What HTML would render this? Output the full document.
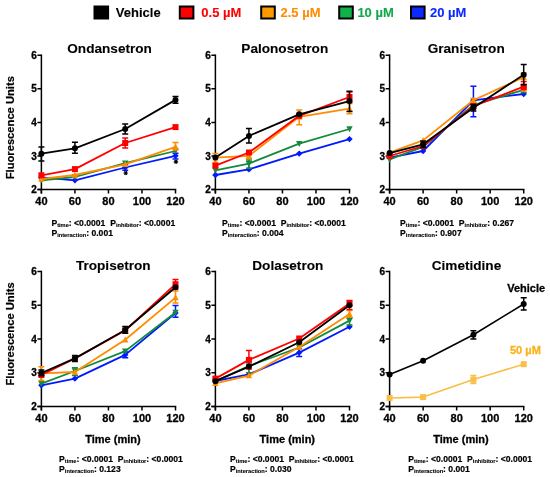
<!DOCTYPE html><html><head><meta charset="utf-8"><style>html,body{margin:0;padding:0;background:#fff;width:550px;height:477px;overflow:hidden}svg{display:block;will-change:transform}text{font-family:"Liberation Sans",sans-serif;font-weight:bold;white-space:pre;stroke:#000;stroke-width:0.3px}</style></head><body>
<svg width="550" height="477" viewBox="0 0 550 477">
<rect x="94.50" y="6.5" width="13.6" height="12" fill="#000" stroke="#000" stroke-width="2"/>
<text x="115.80" y="17.3" font-size="13" fill="#000" style="stroke:#000;stroke-width:0.1px">Vehicle</text>
<rect x="179.80" y="6.5" width="13.6" height="12" fill="#FF0000" stroke="#000" stroke-width="2"/>
<text x="201.30" y="17.3" font-size="13" fill="#FF0000" style="stroke:#FF0000;stroke-width:0.1px">0.5 µM</text>
<rect x="261.20" y="6.5" width="13.6" height="12" fill="#FF9900" stroke="#000" stroke-width="2"/>
<text x="280.50" y="17.3" font-size="13" fill="#FF8C00" style="stroke:#FF8C00;stroke-width:0.1px">2.5 µM</text>
<rect x="339.20" y="6.5" width="13.6" height="12" fill="#10B04A" stroke="#000" stroke-width="2"/>
<text x="357.40" y="17.3" font-size="13" fill="#10A84A" style="stroke:#10A84A;stroke-width:0.1px">10 µM</text>
<rect x="411.00" y="6.5" width="13.6" height="12" fill="#0A2AFF" stroke="#000" stroke-width="2"/>
<text x="430.00" y="17.3" font-size="13" fill="#0A28FF" style="stroke:#0A28FF;stroke-width:0.1px">20 µM</text>
<text x="109.60" y="53.00" font-size="13.6" text-anchor="middle" style="stroke-width:0.12px">Ondansetron</text>
<text x="284.80" y="53.00" font-size="13.6" text-anchor="middle" style="stroke-width:0.12px">Palonosetron</text>
<text x="466.20" y="53.00" font-size="13.6" text-anchor="middle" style="stroke-width:0.12px">Granisetron</text>
<text x="113.30" y="269.70" font-size="13.6" text-anchor="middle" style="stroke-width:0.12px">Tropisetron</text>
<text x="287.80" y="269.70" font-size="13.6" text-anchor="middle" style="stroke-width:0.12px">Dolasetron</text>
<text x="466.50" y="269.70" font-size="13.6" text-anchor="middle" style="stroke-width:0.12px">Cimetidine</text>
<text transform="translate(14.3 127.70) rotate(-90)" x="0" y="0" font-size="11.2" text-anchor="middle" style="stroke-width:0.2px">Fluorescence Units</text>
<text transform="translate(14.3 333.90) rotate(-90)" x="0" y="0" font-size="11.2" text-anchor="middle" style="stroke-width:0.2px">Fluorescence Units</text>
<path d="M41.40 54.45V193.60M37.40 189.60H176.25" stroke="#000" stroke-width="1.5" fill="none"/>
<text x="36.80" y="193.20" font-size="10" text-anchor="end">2</text>
<text x="36.80" y="159.60" font-size="10" text-anchor="end">3</text>
<text x="36.80" y="126.00" font-size="10" text-anchor="end">4</text>
<text x="36.80" y="92.40" font-size="10" text-anchor="end">5</text>
<text x="36.80" y="58.80" font-size="10" text-anchor="end">6</text>
<text x="41.40" y="204.60" font-size="11" text-anchor="middle">40</text>
<text x="74.92" y="204.60" font-size="11" text-anchor="middle">60</text>
<text x="108.45" y="204.60" font-size="11" text-anchor="middle">80</text>
<text x="141.97" y="204.60" font-size="11" text-anchor="middle">100</text>
<text x="175.50" y="204.60" font-size="11" text-anchor="middle">120</text>
<path d="M37.40 189.60H41.40M37.40 156.00H41.40M37.40 122.40H41.40M37.40 88.80H41.40M37.40 55.20H41.40M41.40 189.60V193.60M74.92 189.60V193.60M108.45 189.60V193.60M141.97 189.60V193.60M175.50 189.60V193.60" stroke="#000" stroke-width="1.5" fill="none"/>
<path d="M41.40 270.87V410.50M37.40 406.50H176.25" stroke="#000" stroke-width="1.5" fill="none"/>
<text x="36.80" y="410.10" font-size="10" text-anchor="end">2</text>
<text x="36.80" y="376.38" font-size="10" text-anchor="end">3</text>
<text x="36.80" y="342.66" font-size="10" text-anchor="end">4</text>
<text x="36.80" y="308.94" font-size="10" text-anchor="end">5</text>
<text x="36.80" y="275.22" font-size="10" text-anchor="end">6</text>
<text x="41.40" y="421.50" font-size="11" text-anchor="middle">40</text>
<text x="74.92" y="421.50" font-size="11" text-anchor="middle">60</text>
<text x="108.45" y="421.50" font-size="11" text-anchor="middle">80</text>
<text x="141.97" y="421.50" font-size="11" text-anchor="middle">100</text>
<text x="175.50" y="421.50" font-size="11" text-anchor="middle">120</text>
<path d="M37.40 406.50H41.40M37.40 372.78H41.40M37.40 339.06H41.40M37.40 305.34H41.40M37.40 271.62H41.40M41.40 406.50V410.50M74.92 406.50V410.50M108.45 406.50V410.50M141.97 406.50V410.50M175.50 406.50V410.50" stroke="#000" stroke-width="1.5" fill="none"/>
<path d="M215.40 54.45V193.60M211.40 189.60H350.25" stroke="#000" stroke-width="1.5" fill="none"/>
<text x="210.80" y="193.20" font-size="10" text-anchor="end">2</text>
<text x="210.80" y="159.60" font-size="10" text-anchor="end">3</text>
<text x="210.80" y="126.00" font-size="10" text-anchor="end">4</text>
<text x="210.80" y="92.40" font-size="10" text-anchor="end">5</text>
<text x="210.80" y="58.80" font-size="10" text-anchor="end">6</text>
<text x="215.40" y="204.60" font-size="11" text-anchor="middle">40</text>
<text x="248.93" y="204.60" font-size="11" text-anchor="middle">60</text>
<text x="282.45" y="204.60" font-size="11" text-anchor="middle">80</text>
<text x="315.98" y="204.60" font-size="11" text-anchor="middle">100</text>
<text x="349.50" y="204.60" font-size="11" text-anchor="middle">120</text>
<path d="M211.40 189.60H215.40M211.40 156.00H215.40M211.40 122.40H215.40M211.40 88.80H215.40M211.40 55.20H215.40M215.40 189.60V193.60M248.93 189.60V193.60M282.45 189.60V193.60M315.98 189.60V193.60M349.50 189.60V193.60" stroke="#000" stroke-width="1.5" fill="none"/>
<path d="M215.40 270.87V410.50M211.40 406.50H350.25" stroke="#000" stroke-width="1.5" fill="none"/>
<text x="210.80" y="410.10" font-size="10" text-anchor="end">2</text>
<text x="210.80" y="376.38" font-size="10" text-anchor="end">3</text>
<text x="210.80" y="342.66" font-size="10" text-anchor="end">4</text>
<text x="210.80" y="308.94" font-size="10" text-anchor="end">5</text>
<text x="210.80" y="275.22" font-size="10" text-anchor="end">6</text>
<text x="215.40" y="421.50" font-size="11" text-anchor="middle">40</text>
<text x="248.93" y="421.50" font-size="11" text-anchor="middle">60</text>
<text x="282.45" y="421.50" font-size="11" text-anchor="middle">80</text>
<text x="315.98" y="421.50" font-size="11" text-anchor="middle">100</text>
<text x="349.50" y="421.50" font-size="11" text-anchor="middle">120</text>
<path d="M211.40 406.50H215.40M211.40 372.78H215.40M211.40 339.06H215.40M211.40 305.34H215.40M211.40 271.62H215.40M215.40 406.50V410.50M248.93 406.50V410.50M282.45 406.50V410.50M315.98 406.50V410.50M349.50 406.50V410.50" stroke="#000" stroke-width="1.5" fill="none"/>
<path d="M389.60 54.45V193.60M385.60 189.60H524.45" stroke="#000" stroke-width="1.5" fill="none"/>
<text x="385.00" y="193.20" font-size="10" text-anchor="end">2</text>
<text x="385.00" y="159.60" font-size="10" text-anchor="end">3</text>
<text x="385.00" y="126.00" font-size="10" text-anchor="end">4</text>
<text x="385.00" y="92.40" font-size="10" text-anchor="end">5</text>
<text x="385.00" y="58.80" font-size="10" text-anchor="end">6</text>
<text x="389.60" y="204.60" font-size="11" text-anchor="middle">40</text>
<text x="423.12" y="204.60" font-size="11" text-anchor="middle">60</text>
<text x="456.65" y="204.60" font-size="11" text-anchor="middle">80</text>
<text x="490.18" y="204.60" font-size="11" text-anchor="middle">100</text>
<text x="523.70" y="204.60" font-size="11" text-anchor="middle">120</text>
<path d="M385.60 189.60H389.60M385.60 156.00H389.60M385.60 122.40H389.60M385.60 88.80H389.60M385.60 55.20H389.60M389.60 189.60V193.60M423.12 189.60V193.60M456.65 189.60V193.60M490.18 189.60V193.60M523.70 189.60V193.60" stroke="#000" stroke-width="1.5" fill="none"/>
<path d="M389.60 270.87V410.50M385.60 406.50H524.45" stroke="#000" stroke-width="1.5" fill="none"/>
<text x="385.00" y="410.10" font-size="10" text-anchor="end">2</text>
<text x="385.00" y="376.38" font-size="10" text-anchor="end">3</text>
<text x="385.00" y="342.66" font-size="10" text-anchor="end">4</text>
<text x="385.00" y="308.94" font-size="10" text-anchor="end">5</text>
<text x="385.00" y="275.22" font-size="10" text-anchor="end">6</text>
<text x="389.60" y="421.50" font-size="11" text-anchor="middle">40</text>
<text x="423.12" y="421.50" font-size="11" text-anchor="middle">60</text>
<text x="456.65" y="421.50" font-size="11" text-anchor="middle">80</text>
<text x="490.18" y="421.50" font-size="11" text-anchor="middle">100</text>
<text x="523.70" y="421.50" font-size="11" text-anchor="middle">120</text>
<path d="M385.60 406.50H389.60M385.60 372.78H389.60M385.60 339.06H389.60M385.60 305.34H389.60M385.60 271.62H389.60M389.60 406.50V410.50M423.12 406.50V410.50M456.65 406.50V410.50M490.18 406.50V410.50M523.70 406.50V410.50" stroke="#000" stroke-width="1.5" fill="none"/>
<text x="85.20" y="442.6" font-size="11">Time (min)</text>
<text x="259.60" y="442.6" font-size="11">Time (min)</text>
<text x="433.20" y="442.6" font-size="11">Time (min)</text>
<text x="51.40" y="226.00" font-size="8.6" style="stroke-width:0.2px">P<tspan font-size="5.7" style="stroke-width:0.12px" dy="1">time</tspan><tspan dy="-1">: &lt;0.0001  P</tspan><tspan font-size="5.7" style="stroke-width:0.12px" dy="1">inhibitor</tspan><tspan dy="-1">: &lt;0.0001</tspan></text>
<text x="51.40" y="236.20" font-size="8.6" style="stroke-width:0.2px">P<tspan font-size="5.7" style="stroke-width:0.12px" dy="1">interaction</tspan><tspan dy="-1">: 0.001</tspan></text>
<text x="222.00" y="226.00" font-size="8.6" style="stroke-width:0.2px">P<tspan font-size="5.7" style="stroke-width:0.12px" dy="1">time</tspan><tspan dy="-1">: &lt;0.0001  P</tspan><tspan font-size="5.7" style="stroke-width:0.12px" dy="1">inhibitor</tspan><tspan dy="-1">: &lt;0.0001</tspan></text>
<text x="222.00" y="236.20" font-size="8.6" style="stroke-width:0.2px">P<tspan font-size="5.7" style="stroke-width:0.12px" dy="1">interaction</tspan><tspan dy="-1">: 0.004</tspan></text>
<text x="400.10" y="226.00" font-size="8.6" style="stroke-width:0.2px">P<tspan font-size="5.7" style="stroke-width:0.12px" dy="1">time</tspan><tspan dy="-1">: &lt;0.0001  P</tspan><tspan font-size="5.7" style="stroke-width:0.12px" dy="1">inhibitor</tspan><tspan dy="-1">: 0.267</tspan></text>
<text x="400.10" y="236.20" font-size="8.6" style="stroke-width:0.2px">P<tspan font-size="5.7" style="stroke-width:0.12px" dy="1">interaction</tspan><tspan dy="-1">: 0.907</tspan></text>
<text x="59.10" y="461.70" font-size="8.6" style="stroke-width:0.2px">P<tspan font-size="5.7" style="stroke-width:0.12px" dy="1">time</tspan><tspan dy="-1">: &lt;0.0001  P</tspan><tspan font-size="5.7" style="stroke-width:0.12px" dy="1">inhibitor</tspan><tspan dy="-1">: &lt;0.0001</tspan></text>
<text x="59.10" y="471.90" font-size="8.6" style="stroke-width:0.2px">P<tspan font-size="5.7" style="stroke-width:0.12px" dy="1">interaction</tspan><tspan dy="-1">: 0.123</tspan></text>
<text x="230.00" y="461.70" font-size="8.6" style="stroke-width:0.2px">P<tspan font-size="5.7" style="stroke-width:0.12px" dy="1">time</tspan><tspan dy="-1">: &lt;0.0001  P</tspan><tspan font-size="5.7" style="stroke-width:0.12px" dy="1">inhibitor</tspan><tspan dy="-1">: &lt;0.0001</tspan></text>
<text x="230.00" y="471.90" font-size="8.6" style="stroke-width:0.2px">P<tspan font-size="5.7" style="stroke-width:0.12px" dy="1">interaction</tspan><tspan dy="-1">: 0.030</tspan></text>
<text x="408.30" y="461.70" font-size="8.6" style="stroke-width:0.2px">P<tspan font-size="5.7" style="stroke-width:0.12px" dy="1">time</tspan><tspan dy="-1">: &lt;0.0001  P</tspan><tspan font-size="5.7" style="stroke-width:0.12px" dy="1">inhibitor</tspan><tspan dy="-1">: &lt;0.0001</tspan></text>
<text x="408.30" y="471.90" font-size="8.6" style="stroke-width:0.2px">P<tspan font-size="5.7" style="stroke-width:0.12px" dy="1">interaction</tspan><tspan dy="-1">: 0.001</tspan></text>
<path d="M41.40 177.30 L74.92 180.30 L125.21 167.50 L175.50 155.80" stroke="#0019FF" stroke-width="1.8" fill="none" stroke-linejoin="round"/>
<path d="M125.21 164.80V170.20M122.21 164.80H128.21M122.21 170.20H128.21" stroke="#0019FF" stroke-width="1.5" fill="none"/>
<path d="M175.50 153.20V158.90M172.50 153.20H178.50M172.50 158.90H178.50" stroke="#0019FF" stroke-width="1.5" fill="none"/>
<path d="M41.40 174.10L44.60 177.30L41.40 180.50L38.20 177.30Z" fill="#0019FF"/>
<path d="M74.92 177.10L78.12 180.30L74.92 183.50L71.72 180.30Z" fill="#0019FF"/>
<path d="M125.21 164.30L128.41 167.50L125.21 170.70L122.01 167.50Z" fill="#0019FF"/>
<path d="M175.50 152.60L178.70 155.80L175.50 159.00L172.30 155.80Z" fill="#0019FF"/>
<path d="M41.40 180.30 L74.92 177.00 L125.21 163.20 L175.50 151.00" stroke="#138A3C" stroke-width="1.8" fill="none" stroke-linejoin="round"/>
<path d="M38.20 177.60L44.60 177.60L41.40 183.60Z" fill="#138A3C"/>
<path d="M71.72 174.30L78.12 174.30L74.92 180.30Z" fill="#138A3C"/>
<path d="M122.01 160.50L128.41 160.50L125.21 166.50Z" fill="#138A3C"/>
<path d="M172.30 148.30L178.70 148.30L175.50 154.30Z" fill="#138A3C"/>
<path d="M41.40 179.00 L74.92 175.00 L125.21 164.40 L175.50 146.80" stroke="#FF8C00" stroke-width="1.8" fill="none" stroke-linejoin="round"/>
<path d="M175.50 142.60V150.00M172.50 142.60H178.50M172.50 150.00H178.50" stroke="#FF8C00" stroke-width="1.5" fill="none"/>
<path d="M38.20 181.70L44.60 181.70L41.40 175.70Z" fill="#FF8C00"/>
<path d="M71.72 177.70L78.12 177.70L74.92 171.70Z" fill="#FF8C00"/>
<path d="M122.01 167.10L128.41 167.10L125.21 161.10Z" fill="#FF8C00"/>
<path d="M172.30 149.50L178.70 149.50L175.50 143.50Z" fill="#FF8C00"/>
<path d="M41.40 175.30 L74.92 169.10 L125.21 143.00 L175.50 127.10" stroke="#FF0000" stroke-width="1.8" fill="none" stroke-linejoin="round"/>
<path d="M125.21 138.00V148.00M122.21 138.00H128.21M122.21 148.00H128.21" stroke="#FF0000" stroke-width="1.5" fill="none"/>
<rect x="38.40" y="172.30" width="6.00" height="6.00" fill="#FF0000"/>
<rect x="71.92" y="166.10" width="6.00" height="6.00" fill="#FF0000"/>
<rect x="122.21" y="140.00" width="6.00" height="6.00" fill="#FF0000"/>
<rect x="172.50" y="124.10" width="6.00" height="6.00" fill="#FF0000"/>
<path d="M41.40 153.70 L74.92 148.30 L125.21 129.00 L175.50 99.90" stroke="#000000" stroke-width="1.8" fill="none" stroke-linejoin="round"/>
<path d="M41.40 147.00V161.00M38.40 147.00H44.40M38.40 161.00H44.40" stroke="#000000" stroke-width="1.5" fill="none"/>
<path d="M74.92 142.30V153.20M71.92 142.30H77.92M71.92 153.20H77.92" stroke="#000000" stroke-width="1.5" fill="none"/>
<path d="M125.21 124.00V134.00M122.21 124.00H128.21M122.21 134.00H128.21" stroke="#000000" stroke-width="1.5" fill="none"/>
<path d="M175.50 96.60V103.20M172.50 96.60H178.50M172.50 103.20H178.50" stroke="#000000" stroke-width="1.5" fill="none"/>
<circle cx="41.40" cy="153.70" r="3.00" fill="#000000"/>
<circle cx="74.92" cy="148.30" r="3.00" fill="#000000"/>
<circle cx="125.21" cy="129.00" r="3.00" fill="#000000"/>
<circle cx="175.50" cy="99.90" r="3.00" fill="#000000"/>
<path d="M123.51 173.00L127.91 173.00M124.55 171.13L126.88 174.87M126.88 171.13L124.55 174.87" stroke="#000" stroke-width="1.2" fill="none"/>
<path d="M173.70 161.80L178.10 161.80M174.73 159.93L177.07 163.67M177.07 159.93L174.73 163.67" stroke="#000" stroke-width="1.2" fill="none"/>
<path d="M215.40 175.00 L248.93 169.40 L299.21 153.60 L349.50 139.10" stroke="#0019FF" stroke-width="1.8" fill="none" stroke-linejoin="round"/>
<path d="M215.40 171.80L218.60 175.00L215.40 178.20L212.20 175.00Z" fill="#0019FF"/>
<path d="M248.93 166.20L252.12 169.40L248.93 172.60L245.73 169.40Z" fill="#0019FF"/>
<path d="M299.21 150.40L302.41 153.60L299.21 156.80L296.01 153.60Z" fill="#0019FF"/>
<path d="M349.50 135.90L352.70 139.10L349.50 142.30L346.30 139.10Z" fill="#0019FF"/>
<path d="M215.40 170.30 L248.93 163.60 L299.21 143.60 L349.50 129.00" stroke="#138A3C" stroke-width="1.8" fill="none" stroke-linejoin="round"/>
<path d="M248.93 160.00V168.20M245.93 160.00H251.93M245.93 168.20H251.93" stroke="#138A3C" stroke-width="1.5" fill="none"/>
<path d="M212.20 167.60L218.60 167.60L215.40 173.60Z" fill="#138A3C"/>
<path d="M245.73 160.90L252.12 160.90L248.93 166.90Z" fill="#138A3C"/>
<path d="M296.01 140.90L302.41 140.90L299.21 146.90Z" fill="#138A3C"/>
<path d="M346.30 126.30L352.70 126.30L349.50 132.30Z" fill="#138A3C"/>
<path d="M215.40 157.70 L248.93 155.80 L299.21 116.80 L349.50 108.70" stroke="#FF8C00" stroke-width="1.8" fill="none" stroke-linejoin="round"/>
<path d="M215.40 153.60V162.40M212.40 153.60H218.40M212.40 162.40H218.40" stroke="#FF8C00" stroke-width="1.5" fill="none"/>
<path d="M248.93 153.00V158.40M245.93 153.00H251.93M245.93 158.40H251.93" stroke="#FF8C00" stroke-width="1.5" fill="none"/>
<path d="M299.21 110.00V124.70M296.21 110.00H302.21M296.21 124.70H302.21" stroke="#FF8C00" stroke-width="1.5" fill="none"/>
<path d="M349.50 103.60V113.80M346.50 103.60H352.50M346.50 113.80H352.50" stroke="#FF8C00" stroke-width="1.5" fill="none"/>
<path d="M212.20 160.40L218.60 160.40L215.40 154.40Z" fill="#FF8C00"/>
<path d="M245.73 158.50L252.12 158.50L248.93 152.50Z" fill="#FF8C00"/>
<path d="M296.01 119.50L302.41 119.50L299.21 113.50Z" fill="#FF8C00"/>
<path d="M346.30 111.40L352.70 111.40L349.50 105.40Z" fill="#FF8C00"/>
<path d="M215.40 165.70 L248.93 152.50 L299.21 115.80 L349.50 97.00" stroke="#FF0000" stroke-width="1.8" fill="none" stroke-linejoin="round"/>
<path d="M349.50 92.00V102.00M346.50 92.00H352.50M346.50 102.00H352.50" stroke="#FF0000" stroke-width="1.5" fill="none"/>
<rect x="212.40" y="162.70" width="6.00" height="6.00" fill="#FF0000"/>
<rect x="245.93" y="149.50" width="6.00" height="6.00" fill="#FF0000"/>
<rect x="296.21" y="112.80" width="6.00" height="6.00" fill="#FF0000"/>
<rect x="346.50" y="94.00" width="6.00" height="6.00" fill="#FF0000"/>
<path d="M215.40 157.60 L248.93 135.90 L299.21 114.30 L349.50 101.10" stroke="#000000" stroke-width="1.8" fill="none" stroke-linejoin="round"/>
<path d="M248.93 128.60V142.90M245.93 128.60H251.93M245.93 142.90H251.93" stroke="#000000" stroke-width="1.5" fill="none"/>
<path d="M349.50 91.30V111.50M346.50 91.30H352.50M346.50 111.50H352.50" stroke="#000000" stroke-width="1.5" fill="none"/>
<circle cx="215.40" cy="157.60" r="3.00" fill="#000000"/>
<circle cx="248.93" cy="135.90" r="3.00" fill="#000000"/>
<circle cx="299.21" cy="114.30" r="3.00" fill="#000000"/>
<circle cx="349.50" cy="101.10" r="3.00" fill="#000000"/>
<path d="M389.60 157.70 L423.12 151.00 L473.41 100.30 L523.70 94.00" stroke="#0019FF" stroke-width="1.8" fill="none" stroke-linejoin="round"/>
<path d="M473.41 86.30V116.70M470.41 86.30H476.41M470.41 116.70H476.41" stroke="#0019FF" stroke-width="1.5" fill="none"/>
<path d="M389.60 154.50L392.80 157.70L389.60 160.90L386.40 157.70Z" fill="#0019FF"/>
<path d="M423.12 147.80L426.32 151.00L423.12 154.20L419.93 151.00Z" fill="#0019FF"/>
<path d="M473.41 97.10L476.61 100.30L473.41 103.50L470.21 100.30Z" fill="#0019FF"/>
<path d="M523.70 90.80L526.90 94.00L523.70 97.20L520.50 94.00Z" fill="#0019FF"/>
<path d="M389.60 159.40 L423.12 146.80 L473.41 105.00 L523.70 89.80" stroke="#138A3C" stroke-width="1.8" fill="none" stroke-linejoin="round"/>
<path d="M523.70 87.00V92.40M520.70 87.00H526.70M520.70 92.40H526.70" stroke="#138A3C" stroke-width="1.5" fill="none"/>
<path d="M386.40 156.70L392.80 156.70L389.60 162.70Z" fill="#138A3C"/>
<path d="M419.93 144.10L426.32 144.10L423.12 150.10Z" fill="#138A3C"/>
<path d="M470.21 102.30L476.61 102.30L473.41 108.30Z" fill="#138A3C"/>
<path d="M520.50 87.10L526.90 87.10L523.70 93.10Z" fill="#138A3C"/>
<path d="M389.60 152.60 L423.12 140.40 L473.41 100.30 L523.70 77.30" stroke="#FF8C00" stroke-width="1.8" fill="none" stroke-linejoin="round"/>
<path d="M473.41 98.60V102.00M470.41 98.60H476.41M470.41 102.00H476.41" stroke="#FF8C00" stroke-width="1.5" fill="none"/>
<path d="M523.70 73.00V90.90M520.70 73.00H526.70M520.70 90.90H526.70" stroke="#FF8C00" stroke-width="1.5" fill="none"/>
<path d="M386.40 155.30L392.80 155.30L389.60 149.30Z" fill="#FF8C00"/>
<path d="M419.93 143.10L426.32 143.10L423.12 137.10Z" fill="#FF8C00"/>
<path d="M470.21 103.00L476.61 103.00L473.41 97.00Z" fill="#FF8C00"/>
<path d="M520.50 80.00L526.90 80.00L523.70 74.00Z" fill="#FF8C00"/>
<path d="M389.60 156.00 L423.12 146.00 L473.41 106.20 L523.70 86.60" stroke="#FF0000" stroke-width="1.8" fill="none" stroke-linejoin="round"/>
<path d="M523.70 81.40V89.40M520.70 81.40H526.70M520.70 89.40H526.70" stroke="#FF0000" stroke-width="1.5" fill="none"/>
<rect x="386.60" y="153.00" width="6.00" height="6.00" fill="#FF0000"/>
<rect x="420.12" y="143.00" width="6.00" height="6.00" fill="#FF0000"/>
<rect x="470.41" y="103.20" width="6.00" height="6.00" fill="#FF0000"/>
<rect x="520.70" y="83.60" width="6.00" height="6.00" fill="#FF0000"/>
<path d="M389.60 153.10 L423.12 144.30 L473.41 107.70 L523.70 74.70" stroke="#000000" stroke-width="1.8" fill="none" stroke-linejoin="round"/>
<path d="M423.12 141.00V147.50M420.12 141.00H426.12M420.12 147.50H426.12" stroke="#000000" stroke-width="1.5" fill="none"/>
<path d="M473.41 104.50V111.00M470.41 104.50H476.41M470.41 111.00H476.41" stroke="#000000" stroke-width="1.5" fill="none"/>
<path d="M523.70 64.40V84.70M520.70 64.40H526.70M520.70 84.70H526.70" stroke="#000000" stroke-width="1.5" fill="none"/>
<circle cx="389.60" cy="153.10" r="3.00" fill="#000000"/>
<circle cx="423.12" cy="144.30" r="3.00" fill="#000000"/>
<circle cx="473.41" cy="107.70" r="3.00" fill="#000000"/>
<circle cx="523.70" cy="74.70" r="3.00" fill="#000000"/>
<path d="M41.40 385.30 L74.92 378.60 L125.21 354.90 L175.50 313.00" stroke="#0019FF" stroke-width="1.8" fill="none" stroke-linejoin="round"/>
<path d="M125.21 352.00V357.70M122.21 352.00H128.21M122.21 357.70H128.21" stroke="#0019FF" stroke-width="1.5" fill="none"/>
<path d="M175.50 305.60V317.20M172.50 305.60H178.50M172.50 317.20H178.50" stroke="#0019FF" stroke-width="1.5" fill="none"/>
<path d="M41.40 382.10L44.60 385.30L41.40 388.50L38.20 385.30Z" fill="#0019FF"/>
<path d="M74.92 375.40L78.12 378.60L74.92 381.80L71.72 378.60Z" fill="#0019FF"/>
<path d="M125.21 351.70L128.41 354.90L125.21 358.10L122.01 354.90Z" fill="#0019FF"/>
<path d="M175.50 309.80L178.70 313.00L175.50 316.20L172.30 313.00Z" fill="#0019FF"/>
<path d="M41.40 383.70 L74.92 371.00 L125.21 351.10 L175.50 312.50" stroke="#138A3C" stroke-width="1.8" fill="none" stroke-linejoin="round"/>
<path d="M74.92 367.70V375.60M71.92 367.70H77.92M71.92 375.60H77.92" stroke="#138A3C" stroke-width="1.5" fill="none"/>
<path d="M38.20 381.00L44.60 381.00L41.40 387.00Z" fill="#138A3C"/>
<path d="M71.72 368.30L78.12 368.30L74.92 374.30Z" fill="#138A3C"/>
<path d="M122.01 348.40L128.41 348.40L125.21 354.40Z" fill="#138A3C"/>
<path d="M172.30 309.80L178.70 309.80L175.50 315.80Z" fill="#138A3C"/>
<path d="M41.40 373.30 L74.92 372.00 L125.21 339.80 L175.50 297.60" stroke="#FF8C00" stroke-width="1.8" fill="none" stroke-linejoin="round"/>
<path d="M41.40 366.80V380.50M38.40 366.80H44.40M38.40 380.50H44.40" stroke="#FF8C00" stroke-width="1.5" fill="none"/>
<path d="M175.50 291.00V303.00M172.50 291.00H178.50M172.50 303.00H178.50" stroke="#FF8C00" stroke-width="1.5" fill="none"/>
<path d="M38.20 376.00L44.60 376.00L41.40 370.00Z" fill="#FF8C00"/>
<path d="M71.72 374.70L78.12 374.70L74.92 368.70Z" fill="#FF8C00"/>
<path d="M122.01 342.50L128.41 342.50L125.21 336.50Z" fill="#FF8C00"/>
<path d="M172.30 300.30L178.70 300.30L175.50 294.30Z" fill="#FF8C00"/>
<path d="M41.40 375.00 L74.92 358.50 L125.21 330.50 L175.50 284.20" stroke="#FF0000" stroke-width="1.8" fill="none" stroke-linejoin="round"/>
<path d="M175.50 279.40V289.00M172.50 279.40H178.50M172.50 289.00H178.50" stroke="#FF0000" stroke-width="1.5" fill="none"/>
<rect x="38.40" y="372.00" width="6.00" height="6.00" fill="#FF0000"/>
<rect x="71.92" y="355.50" width="6.00" height="6.00" fill="#FF0000"/>
<rect x="122.21" y="327.50" width="6.00" height="6.00" fill="#FF0000"/>
<rect x="172.50" y="281.20" width="6.00" height="6.00" fill="#FF0000"/>
<path d="M41.40 373.00 L74.92 358.40 L125.21 330.00 L175.50 287.30" stroke="#000000" stroke-width="1.8" fill="none" stroke-linejoin="round"/>
<path d="M41.40 370.10V375.80M38.40 370.10H44.40M38.40 375.80H44.40" stroke="#000000" stroke-width="1.5" fill="none"/>
<path d="M74.92 355.40V361.40M71.92 355.40H77.92M71.92 361.40H77.92" stroke="#000000" stroke-width="1.5" fill="none"/>
<path d="M125.21 326.60V333.20M122.21 326.60H128.21M122.21 333.20H128.21" stroke="#000000" stroke-width="1.5" fill="none"/>
<circle cx="41.40" cy="373.00" r="3.00" fill="#000000"/>
<circle cx="74.92" cy="358.40" r="3.00" fill="#000000"/>
<circle cx="125.21" cy="330.00" r="3.00" fill="#000000"/>
<circle cx="175.50" cy="287.30" r="3.00" fill="#000000"/>
<path d="M215.40 381.00 L248.93 374.40 L299.21 352.60 L349.50 326.80" stroke="#0019FF" stroke-width="1.8" fill="none" stroke-linejoin="round"/>
<path d="M299.21 348.80V356.40M296.21 348.80H302.21M296.21 356.40H302.21" stroke="#0019FF" stroke-width="1.5" fill="none"/>
<path d="M215.40 377.80L218.60 381.00L215.40 384.20L212.20 381.00Z" fill="#0019FF"/>
<path d="M248.93 371.20L252.12 374.40L248.93 377.60L245.73 374.40Z" fill="#0019FF"/>
<path d="M299.21 349.40L302.41 352.60L299.21 355.80L296.01 352.60Z" fill="#0019FF"/>
<path d="M349.50 323.60L352.70 326.80L349.50 330.00L346.30 326.80Z" fill="#0019FF"/>
<path d="M215.40 381.00 L248.93 366.00 L299.21 347.50 L349.50 320.60" stroke="#138A3C" stroke-width="1.8" fill="none" stroke-linejoin="round"/>
<path d="M248.93 359.00V372.80M245.93 359.00H251.93M245.93 372.80H251.93" stroke="#138A3C" stroke-width="1.5" fill="none"/>
<path d="M349.50 318.00V325.00M346.50 318.00H352.50M346.50 325.00H352.50" stroke="#138A3C" stroke-width="1.5" fill="none"/>
<path d="M212.20 378.30L218.60 378.30L215.40 384.30Z" fill="#138A3C"/>
<path d="M245.73 363.30L252.12 363.30L248.93 369.30Z" fill="#138A3C"/>
<path d="M296.01 344.80L302.41 344.80L299.21 350.80Z" fill="#138A3C"/>
<path d="M346.30 317.90L352.70 317.90L349.50 323.90Z" fill="#138A3C"/>
<path d="M215.40 383.30 L248.93 375.60 L299.21 347.00 L349.50 314.00" stroke="#FF8C00" stroke-width="1.8" fill="none" stroke-linejoin="round"/>
<path d="M349.50 310.40V317.00M346.50 310.40H352.50M346.50 317.00H352.50" stroke="#FF8C00" stroke-width="1.5" fill="none"/>
<path d="M212.20 386.00L218.60 386.00L215.40 380.00Z" fill="#FF8C00"/>
<path d="M245.73 378.30L252.12 378.30L248.93 372.30Z" fill="#FF8C00"/>
<path d="M296.01 349.70L302.41 349.70L299.21 343.70Z" fill="#FF8C00"/>
<path d="M346.30 316.70L352.70 316.70L349.50 310.70Z" fill="#FF8C00"/>
<path d="M215.40 378.60 L248.93 359.90 L299.21 338.50 L349.50 303.60" stroke="#FF0000" stroke-width="1.8" fill="none" stroke-linejoin="round"/>
<path d="M248.93 350.50V369.00M245.93 350.50H251.93M245.93 369.00H251.93" stroke="#FF0000" stroke-width="1.5" fill="none"/>
<path d="M349.50 300.50V309.40M346.50 300.50H352.50M346.50 309.40H352.50" stroke="#FF0000" stroke-width="1.5" fill="none"/>
<rect x="212.40" y="375.60" width="6.00" height="6.00" fill="#FF0000"/>
<rect x="245.93" y="356.90" width="6.00" height="6.00" fill="#FF0000"/>
<rect x="296.21" y="335.50" width="6.00" height="6.00" fill="#FF0000"/>
<rect x="346.50" y="300.60" width="6.00" height="6.00" fill="#FF0000"/>
<path d="M215.40 381.20 L248.93 366.60 L299.21 342.30 L349.50 305.20" stroke="#000000" stroke-width="1.8" fill="none" stroke-linejoin="round"/>
<circle cx="215.40" cy="381.20" r="3.00" fill="#000000"/>
<circle cx="248.93" cy="366.60" r="3.00" fill="#000000"/>
<circle cx="299.21" cy="342.30" r="3.00" fill="#000000"/>
<circle cx="349.50" cy="305.20" r="3.00" fill="#000000"/>
<path d="M389.60 398.00 L423.12 397.10 L473.41 379.60 L523.70 364.20" stroke="#F9BE45" stroke-width="1.6" fill="none" stroke-linejoin="round"/>
<path d="M473.41 375.50V383.40M470.41 375.50H476.41M470.41 383.40H476.41" stroke="#F9BE45" stroke-width="1.5" fill="none"/>
<rect x="386.60" y="395.00" width="6.00" height="6.00" fill="#F9BE45"/>
<rect x="420.12" y="394.10" width="6.00" height="6.00" fill="#F9BE45"/>
<rect x="470.41" y="376.60" width="6.00" height="6.00" fill="#F9BE45"/>
<rect x="520.70" y="361.20" width="6.00" height="6.00" fill="#F9BE45"/>
<path d="M389.60 374.40 L423.12 360.70 L473.41 334.70 L523.70 304.00" stroke="#000000" stroke-width="1.6" fill="none" stroke-linejoin="round"/>
<path d="M473.41 330.80V338.90M470.41 330.80H476.41M470.41 338.90H476.41" stroke="#000000" stroke-width="1.5" fill="none"/>
<path d="M523.70 297.70V310.00M520.70 297.70H526.70M520.70 310.00H526.70" stroke="#000000" stroke-width="1.5" fill="none"/>
<circle cx="389.60" cy="374.40" r="3.00" fill="#000000"/>
<circle cx="423.12" cy="360.70" r="3.00" fill="#000000"/>
<circle cx="473.41" cy="334.70" r="3.00" fill="#000000"/>
<circle cx="523.70" cy="304.00" r="3.00" fill="#000000"/>
<text x="507.2" y="292.2" font-size="11">Vehicle</text>
<text x="510.0" y="353.9" font-size="11" fill="#FBB21A" style="stroke:#FBB21A">50 µM</text>
</svg></body></html>
